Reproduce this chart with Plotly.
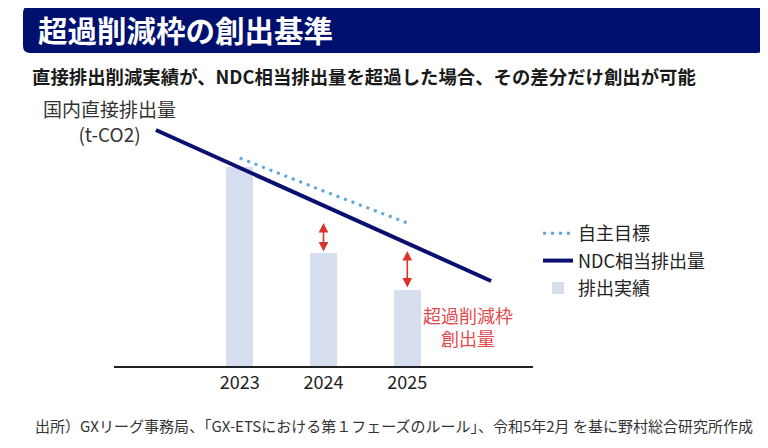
import plotly.graph_objects as go

# chart values (arbitrary emission units)
years = [2023, 2024, 2025]
actual = [199, 113, 76]
ndc_years = [2022, 2023, 2024, 2025, 2026]
ndc = [236, 198, 160, 123, 85]
target_years = [2023, 2024, 2025]
target = [208, 175, 143]
gap_years = [2024, 2025]
gap_top = [143, 115]
gap_bottom = [113, 77]

# page puts the figure 8px in from the corner, so size and offsets account for it
OFF = 8
W, H = 760, 440
L, R, T, B = 106, 235, 108, 82
FONT = "Noto Sans CJK JP"


def px(x):
    # x in screen pixels -> paper
    return (x - OFF - L) / (W - L - R)


def py(y):
    return (H - B - (y - OFF)) / (H - T - B)


fig = go.Figure()
fig.add_trace(go.Bar(x=years, y=actual, name="排出実績", width=0.32,
                     marker=dict(color="#d6deef", line=dict(width=0)),
                     legendrank=3, legendgroup="c", hoverinfo="skip"))
fig.add_trace(go.Scatter(x=ndc_years, y=ndc, name="NDC相当排出量", mode="lines",
                         line=dict(color="#0a1070", width=4),
                         legendrank=2, legendgroup="b", hoverinfo="skip"))
fig.add_trace(go.Scatter(x=target_years, y=target, name="自主目標", mode="lines",
                         line=dict(color="#5aa8de", width=3, dash="3px,5px"),
                         legendrank=1, legendgroup="a", hoverinfo="skip"))

# red double arrows between NDC line and actual bars
for yr, top, bot in zip(gap_years, gap_top, gap_bottom):
    fig.add_annotation(x=yr, y=top, ax=yr, ay=bot, xref="x", yref="y", axref="x", ayref="y",
                       text="", showarrow=True, arrowhead=2, startarrowhead=2,
                       arrowside="end+start", arrowsize=1.2, startarrowsize=1.2,
                       arrowwidth=1.6, arrowcolor="#d9342b", standoff=0, startstandoff=0)

# title banner
r = 7
x0, x1, y0, y1 = 23, 764, 6, 53
path = (f"M {px(x0 + r)},{py(y0)} L {px(x1 - r)},{py(y0)} Q {px(x1)},{py(y0)} {px(x1)},{py(y0 + r)} "
        f"L {px(x1)},{py(y1 - r)} Q {px(x1)},{py(y1)} {px(x1 - r)},{py(y1)} "
        f"L {px(x0 + r)},{py(y1)} Q {px(x0)},{py(y1)} {px(x0)},{py(y1 - r)} "
        f"L {px(x0)},{py(y0 + r)} Q {px(x0)},{py(y0)} {px(x0 + r)},{py(y0)} Z")
fig.add_shape(type="path", path=path, xref="paper", yref="paper",
              fillcolor="#00106e", line=dict(width=0), layer="below")

fig.add_annotation(x=px(36), y=py(29), xref="paper", yref="paper", xanchor="left", yanchor="middle",
                   text="超過削減枠の創出基準", showarrow=False,
                   font=dict(family=FONT, size=29.5, color="white", weight="bold"))
fig.add_annotation(x=px(30), y=py(76), xref="paper", yref="paper", xanchor="left", yanchor="middle",
                   text="直接排出削減実績が、NDC相当排出量を超過した場合、その差分だけ創出が可能",
                   showarrow=False, font=dict(family=FONT, size=18.4, color="#1a1a1a", weight="bold"))
fig.add_annotation(x=px(109), y=py(121), xref="paper", yref="paper", xanchor="center", yanchor="middle",
                   text="国内直接排出量<br>(t-CO2)", showarrow=False,
                   font=dict(family=FONT, size=19, color="#333333"))
fig.add_annotation(x=px(468), y=py(326), xref="paper", yref="paper", xanchor="center", yanchor="middle",
                   text="超過削減枠<br>創出量", showarrow=False,
                   font=dict(family=FONT, size=18, color="#e5484d"))
fig.add_annotation(x=px(755), y=py(425), xref="paper", yref="paper", xanchor="right", yanchor="middle",
                   text="出所）GXリーグ事務局、「GX-ETSにおける第１フェーズのルール」、令和5年2月 を基に野村総合研究所作成",
                   showarrow=False, font=dict(family=FONT, size=15, color="#333333"))

fig.update_xaxes(range=[2021.5, 2026.5], tickvals=years, ticktext=[str(y) for y in years],
                 showline=True, linecolor="#222222", linewidth=1.5, showgrid=False, zeroline=False,
                 ticks="", tickfont=dict(family=FONT, size=18, color="#222222"))
fig.update_yaxes(range=[0, 250], visible=False, showgrid=False)

fig.update_layout(
    width=W, height=H,
    margin=dict(l=L, r=R, t=T, b=B, pad=0),
    plot_bgcolor="white", paper_bgcolor="white",
    font=dict(family=FONT, color="#222222"),
    bargap=0,
    showlegend=True,
    legend=dict(x=px(538), y=py(215), xanchor="left", yanchor="top",
                traceorder="grouped", tracegroupgap=1,
                font=dict(family=FONT, size=18, color="#222222"),
                bgcolor="rgba(0,0,0,0)", borderwidth=0),
)

fig.write_html("out.html")
